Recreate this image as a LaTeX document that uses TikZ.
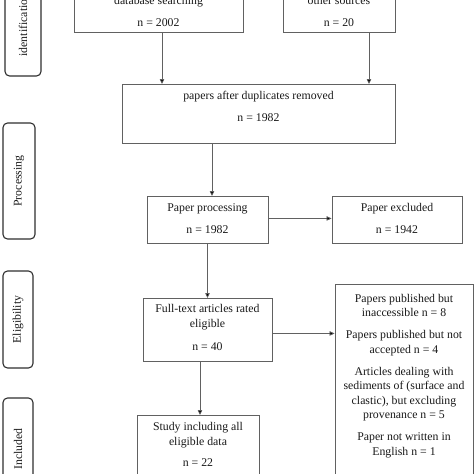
\documentclass[tikz,border=0pt]{standalone}
\usepackage{fontspec}
\setmainfont{Liberation Serif}
\usetikzlibrary{arrows.meta}
\definecolor{boxgray}{gray}{0.38}
\definecolor{lanegray}{gray}{0.18}
\tikzset{
  box/.style={draw=boxgray, line width=0.9pt, fill=white, align=center, anchor=north,
    inner xsep=1pt, inner ysep=2pt, text=black!90, font=\fontsize{11.8}{14.5}\selectfont},
  lane/.style={draw=lanegray, line width=1.1pt, rounded corners=4.5pt, rotate=90,
    inner sep=0pt, text=black!90, font=\fontsize{11.8}{14.5}\selectfont},
  flow/.style={draw=boxgray, line width=0.7pt, -{Triangle[length=5pt,width=4.5pt,fill=black]}}
}
\begin{document}
\begin{tikzpicture}[x=1pt,y=-1pt]
\useasboundingbox (0,0) rectangle (474,474);
\clip (0,0) rectangle (474,474);

% stage lanes on the left
\node[lane, minimum width=102pt, minimum height=36pt] (lident) at (23,25) {identification};
\node[lane, minimum width=116pt, minimum height=32pt] (lproc) at (19,181) {Processing};
\node[lane, minimum width=97pt, minimum height=30pt] (lelig) at (18,319.5) {Eligibility};
\node[lane, minimum width=102pt, minimum height=30pt] (lincl) at (18,449) {Included};

% flow boxes
\node[box, minimum width=169pt, text height=54pt, text depth=4pt] (db) at (158.5,-30)
  {database searching\\[7.5pt] n = 2002};
\node[box, minimum width=112pt, text height=54pt, text depth=4pt] (other) at (339,-30)
  {other sources\\[7.5pt] n = 20};
\node[box, minimum width=273pt, text height=35pt, text depth=20pt] (dup) at (258.5,84)
  {papers after duplicates removed\\[7.5pt] n = 1982};
\node[box, minimum width=121pt, text height=35pt, text depth=8pt] (proc) at (207.5,196)
  {Paper processing\\[7.5pt] n = 1982};
\node[box, minimum width=130pt, text height=35pt, text depth=8pt] (excl) at (397,196)
  {Paper excluded\\[7.5pt] n = 1942};
\node[box, minimum width=129pt, text height=50pt, text depth=9pt] (full) at (207.5,298)
  {Full-text articles rated\\ eligible\\[8.5pt] n = 40};
\node[box, minimum width=138pt, text height=169pt, text depth=33pt] (reasons) at (404,284)
  {Papers published but\\ inaccessible n = 8\\[7.5pt]
   Papers published but not\\ accepted n = 4\\[7.5pt]
   Articles dealing with\\ sediments of (surface and\\ clastic), but excluding\\ provenance n = 5\\[7.5pt]
   Paper not written in\\ English n = 1};
\node[box, minimum width=122pt, text height=49pt, text depth=22pt] (study) at (198,415)
  {Study including all\\ eligible data\\[6.5pt] n = 22};

% connectors
\draw[flow] ([xshift=3.5pt]db.south) -- ([xshift=3.5pt]db.south |- dup.north);
\draw[flow] ([xshift=30pt]other.south) -- ([xshift=30pt]other.south |- dup.north);
\draw[flow] ([xshift=4.5pt]proc.north |- dup.south) -- ([xshift=4.5pt]proc.north);
\draw[flow] ([yshift=1.5pt]proc.east) -- ([yshift=1.5pt]proc.east -| excl.west);
\draw[flow] (proc.south) -- (full.north);
\draw[flow] ([yshift=-3.5pt]full.east) -- ([yshift=-3.5pt]full.east -| reasons.west);
\draw[flow] ([xshift=2pt]study.north |- full.south) -- ([xshift=2pt]study.north);
\end{tikzpicture}
\end{document}
